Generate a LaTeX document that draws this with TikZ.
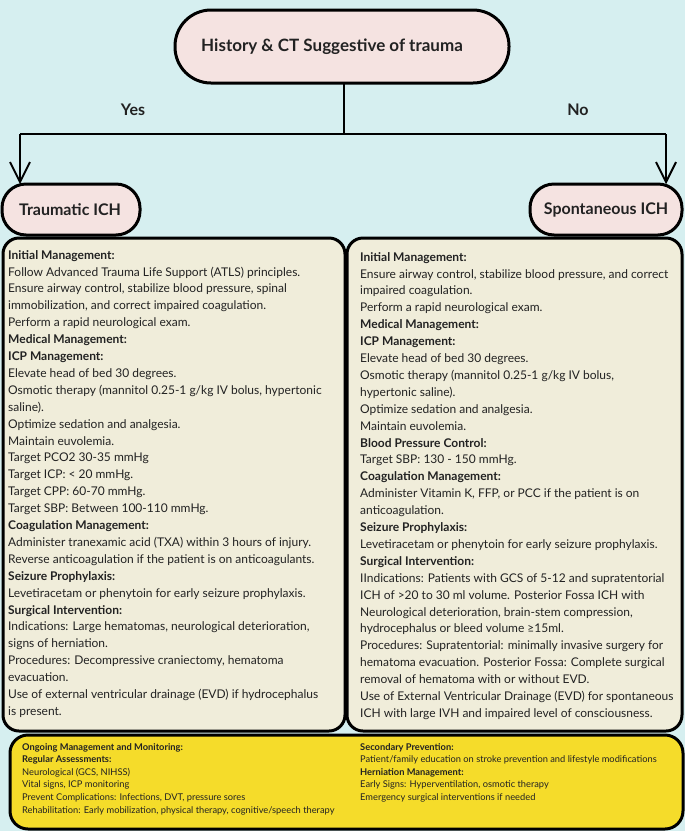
\documentclass[tikz,border=0pt]{standalone}
\usepackage{fontspec}
\setmainfont{Lato}
\usetikzlibrary{calc}
\definecolor{bg}{HTML}{D6EFF0}
\definecolor{pinkb}{HTML}{F5E3E1}
\definecolor{cream}{HTML}{F0EDDA}
\definecolor{yel}{HTML}{F5DC2A}
\definecolor{txt}{HTML}{222222}
\begin{document}
\begin{tikzpicture}[x=1pt,y=-1pt,
  box/.style={draw=black,line width=3pt},
  conn/.style={line width=2.5pt},
  tip/.style={line width=2pt},
  body/.style={anchor=north west,inner sep=0pt,align=left,text=txt,font=\fontsize{12}{16.9}\selectfont},
  small/.style={anchor=north west,inner sep=0pt,align=left,text=txt,font=\fontsize{9.3}{12.6}\selectfont},
  lab/.style={font=\bfseries\fontsize{16}{18}\selectfont,text=txt}]
\useasboundingbox (0,0) rectangle (685,831);
\fill[bg] (0,0) rectangle (685,831);
% top
\draw[box,fill=pinkb,rounded corners=36pt] (175,10) rectangle (509,83);
\node[lab,font=\bfseries\fontsize{17}{19}\selectfont] (top) at (332,47) {History \& CT Suggestive of trauma};
\coordinate (tb) at (344,83);
\coordinate (j) at (344,134);
\coordinate (jl) at (20,134);
\coordinate (jr) at (666,134);
\coordinate (al) at (20,182);
\coordinate (ar) at (666,182);
\draw[conn] (tb) -- (j);
\draw[conn] (jl) -- (jr);
\draw[conn] (jl) -- (al);
\draw[conn] (jr) -- (ar);
\draw[tip] ($(al)+(-10,-20)$) -- (al) -- ($(al)+(10,-20)$);
\draw[tip] ($(ar)+(-10,-20)$) -- (ar) -- ($(ar)+(10,-20)$);
\node[lab] (yes) at (133,110) {Yes};
\node[lab] (no) at (578,110) {No};
% small boxes
\draw[box,fill=pinkb,rounded corners=24pt] (2,184) rectangle (140,235);
\node[lab] (tich) at (70,210) {Traumatic ICH};
\draw[box,fill=pinkb,rounded corners=24pt] (530,184) rectangle (682,235);
\node[lab] (sich) at (606,210) {Spontaneous ICH};
% big boxes
\draw[box,fill=cream,rounded corners=16pt] (3,238) rectangle (345,731);
\draw[box,fill=cream,rounded corners=16pt] (347,238) rectangle (682,731);
\node[body] (lt) at (8,250) {\textbf{Initial Management:}\\
Follow Advanced Trauma Life Support (ATLS) principles.\\
Ensure airway control, stabilize blood pressure, spinal\\
immobilization, and correct impaired coagulation.\\
Perform a rapid neurological exam.\\
\textbf{Medical Management:}\\
\textbf{ICP Management:}\\
Elevate head of bed 30 degrees.\\
Osmotic therapy (mannitol 0.25-1 g/kg IV bolus, hypertonic\\
saline).\\
Optimize sedation and analgesia.\\
Maintain euvolemia.\\
Target PCO2 30-35 mmHg\\
Target ICP: < 20 mmHg.\\
Target CPP: 60-70 mmHg.\\
Target SBP: Between 100-110 mmHg.\\
\textbf{Coagulation Management:}\\
Administer tranexamic acid (TXA) within 3 hours of injury.\\
Reverse anticoagulation if the patient is on anticoagulants.\\
\textbf{Seizure Prophylaxis:}\\
Levetiracetam or phenytoin for early seizure prophylaxis.\\
\textbf{Surgical Intervention:}\\
Indications: Large hematomas, neurological deterioration,\\
signs of herniation.\\
Procedures: Decompressive craniectomy, hematoma\\
evacuation.\\
Use of external ventricular drainage (EVD) if hydrocephalus\\
is present.};
\node[body] (rt) at (360,252) {\textbf{Initial Management:}\\
Ensure airway control, stabilize blood pressure, and correct\\
impaired coagulation.\\
Perform a rapid neurological exam.\\
\textbf{Medical Management:}\\
\textbf{ICP Management:}\\
Elevate head of bed 30 degrees.\\
Osmotic therapy (mannitol 0.25-1 g/kg IV bolus,\\
hypertonic saline).\\
Optimize sedation and analgesia.\\
Maintain euvolemia.\\
\textbf{Blood Pressure Control:}\\
Target SBP: 130 - 150 mmHg.\\
\textbf{Coagulation Management:}\\
Administer Vitamin K, FFP, or PCC if the patient is on\\
anticoagulation.\\
\textbf{Seizure Prophylaxis:}\\
Levetiracetam or phenytoin for early seizure prophylaxis.\\
\textbf{Surgical Intervention:}\\
IIndications: Patients with GCS of 5-12 and supratentorial\\
ICH of >20 to 30 ml volume. Posterior Fossa ICH with\\
Neurological deterioration, brain-stem compression,\\
hydrocephalus or bleed volume ≥15ml.\\
Procedures: Supratentorial: minimally invasive surgery for\\
hematoma evacuation. Posterior Fossa: Complete surgical\\
removal of hematoma with or without EVD.\\
Use of External Ventricular Drainage (EVD) for spontaneous\\
ICH with large IVH and impaired level of consciousness.};
% bottom
\draw[box,fill=yel,rounded corners=18pt] (10,735) rectangle (683,829);
\node[small] (bl) at (22,743) {\textbf{Ongoing Management and Monitoring:}\\
\textbf{Regular Assessments:}\\
Neurological (GCS, NIHSS)\\
Vital signs, ICP monitoring\\
Prevent Complications: Infections, DVT, pressure sores\\
Rehabilitation: Early mobilization, physical therapy, cognitive/speech therapy};
\node[small] (br) at (360,743) {\textbf{Secondary Prevention:}\\
Patient/family education on stroke prevention and lifestyle modifications\\
\textbf{Herniation Management:}\\
Early Signs: Hyperventilation, osmotic therapy\\
Emergency surgical interventions if needed};
\end{tikzpicture}
\end{document}
